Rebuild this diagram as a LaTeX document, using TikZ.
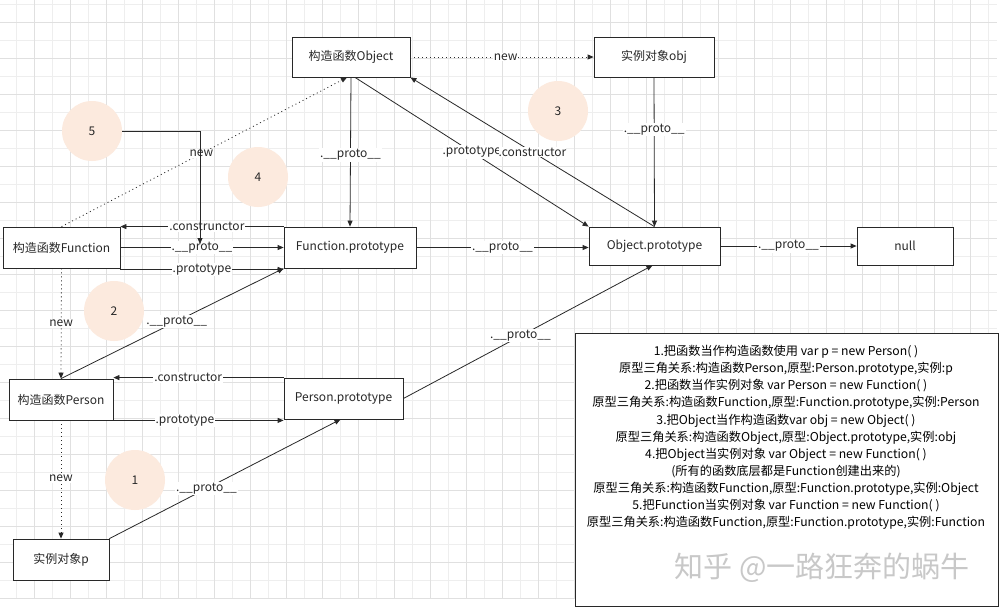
\documentclass[tikz,border=0pt]{standalone}
\usepackage{fontspec}
\setmainfont{Noto Sans CJK SC}
\usetikzlibrary{arrows.meta,calc}
\definecolor{gridmaj}{RGB}{224,224,224}
\definecolor{gridmin}{RGB}{238,238,238}
\definecolor{peach}{RGB}{252,234,222}
\definecolor{ink}{RGB}{40,40,40}
\definecolor{wm}{RGB}{200,200,200}
\tikzset{
  box/.style={draw=ink, line width=0.8pt, fill=white, minimum width=#1, inner sep=0pt, font=\fontsize{12}{14}\selectfont, text=ink},
  num/.style={circle, fill=peach, minimum size=60pt, inner sep=0pt, font=\fontsize{12}{14}\selectfont, text=ink},
  conn/.style={draw=ink, line width=0.8pt, -{Triangle[length=6pt,width=5pt]}},
  dotconn/.style={conn, dash pattern=on 1pt off 3pt},
  lab/.style={fill=white, inner sep=1pt, font=\fontsize{12}{14}\selectfont, text=ink},
}
\begin{document}
\begin{tikzpicture}[x=1pt,y=-1pt]
\fill[white] (0,0) rectangle (1000,608);
\useasboundingbox (0,0) rectangle (1000,608);
% grid
\begin{scope}
\clip (0,0) rectangle (997,598);
\foreach \x in {16,52,...,1000} \draw[gridmin, line width=0.8pt] (\x,0) -- (\x,598);
\foreach \y in {4,40,...,598} \draw[gridmin, line width=0.8pt] (0,\y) -- (997,\y);
\foreach \x in {34,70,...,1000} \draw[gridmaj, line width=0.9pt] (\x,0) -- (\x,598);
\foreach \y in {22,58,...,598} \draw[gridmaj, line width=0.9pt] (0,\y) -- (997,\y);
\end{scope}

% numbered circles
\node[num] (c5) at (92,131) {5};
\node[num] (c4) at (258,177) {4};
\node[num] (c3) at (558,111) {3};
\node[num] (c2) at (114,311) {2};
\node[num] (c1) at (135,480) {1};

% nodes
\node[box=118pt, minimum height=40pt] (O) at (351,57) {构造函数Object};
\node[box=120pt, minimum height=40pt] (obj) at (654,57) {实例对象obj};
\node[box=117pt, minimum height=41pt] (F) at (61.5,247.5) {构造函数Function};
\node[box=132pt, minimum height=41pt] (FP) at (350,247.5) {Function.prototype};
\node[box=131pt, minimum height=38pt] (OP) at (654.5,246) {Object.prototype};
\node[box=96pt, minimum height=38pt] (N) at (905,246) {null};
\node[box=104pt, minimum height=41pt] (P) at (61,399.5) {构造函数Person};
\node[box=119pt, minimum height=41pt] (PP) at (343.5,398.5) {Person.prototype};
\node[box=96pt, minimum height=41pt] (p) at (61,559.5) {实例对象p};

% connectors
\draw[dotconn] (O.east) -- node[lab, pos=0.52] {new} (obj.west);
\draw[conn] (obj.south) -- node[lab, pos=0.35] {.\_\_proto\_\_} (OP.north);
\draw[conn] (O.south) -- node[lab, pos=0.52] {.\_\_proto\_\_} (FP.north);
\draw[conn] ([xshift=4pt]O.south) -- node[lab, pos=0.5, inner xsep=0pt] {.prototype} (OP.north west);
\draw[conn] (OP.north) -- node[lab, pos=0.5, inner xsep=0pt] {.constructor} (O.south east);
\draw[dotconn] (F.north) -- node[lab, pos=0.49] {new} ([xshift=-4pt]O.south);
\draw[conn] (FP.north west) -- node[lab, pos=0.47] {.construnctor} (F.north east);
\draw[conn] (F.east) -- node[lab, pos=0.5] {.\_\_proto\_\_} (FP.west);
\draw[conn] ([yshift=-1pt]F.south east) -- node[lab, pos=0.5] {.prototype} ([yshift=-1pt]F.south east -| FP.west);
\draw[conn] (P.north) -- node[lab, pos=0.52] {.\_\_proto\_\_} (FP.south west);
\draw[dotconn] (F.south) -- node[lab, pos=0.5] {new} (P.north);
\draw[conn] (PP.north west) -- node[lab, pos=0.56] {.constructor} (PP.north west -| P.east);
\draw[conn] (P.south east) -- node[lab, pos=0.42] {.prototype} (P.south east -| PP.west);
\draw[dotconn] (P.south) -- node[lab, pos=0.49] {new} (p.north);
\draw[conn] (p.north east) -- node[lab, pos=0.42] {.\_\_proto\_\_} ([xshift=-3pt]PP.south);
\draw[conn] (PP.east) -- node[lab, pos=0.47] {.\_\_proto\_\_} ([xshift=-2pt]OP.south);
\draw[conn] (FP.east) -- node[lab, pos=0.5] {.\_\_proto\_\_} (FP.east -| OP.west);
\draw[conn] (OP.east) -- node[lab, pos=0.5] {.\_\_proto\_\_} (N.west);
\coordinate (t5) at (200,244);
\draw[conn] (c5.east) -| (t5);

% explanation box
\node[draw=ink, line width=0.8pt, fill=white, minimum width=423pt, minimum height=273pt, inner sep=0pt] (T) at (786.5,469.5) {};
\node[anchor=north, align=center, inner sep=0pt, font=\fontsize{12.2}{17.15}\selectfont, text=black] (Ttext) at (786,345) {%
1.把函数当作构造函数使用 var p = new Person( )\\
原型三角关系:构造函数Person,原型:Person.prototype,实例:p\\
2.把函数当作实例对象 var Person = new Function( )\\
原型三角关系:构造函数Function,原型:Function.prototype,实例:Person\\
3.把Object当作构造函数var obj = new Object( )\\
原型三角关系:构造函数Object,原型:Object.prototype,实例:obj\\
4.把Object当实例对象 var Object = new Function( )\\
(所有的函数底层都是Function创建出来的)\\
原型三角关系:构造函数Function,原型:Function.prototype,实例:Object\\
5.把Function当实例对象 var Function = new Function( )\\
原型三角关系:构造函数Function,原型:Function.prototype,实例:Function};
\node[text=wm, font=\fontsize{29}{32}\selectfont] (W) at (822,568) {知乎 @一路狂奔的蜗牛};
\end{tikzpicture}
\end{document}
